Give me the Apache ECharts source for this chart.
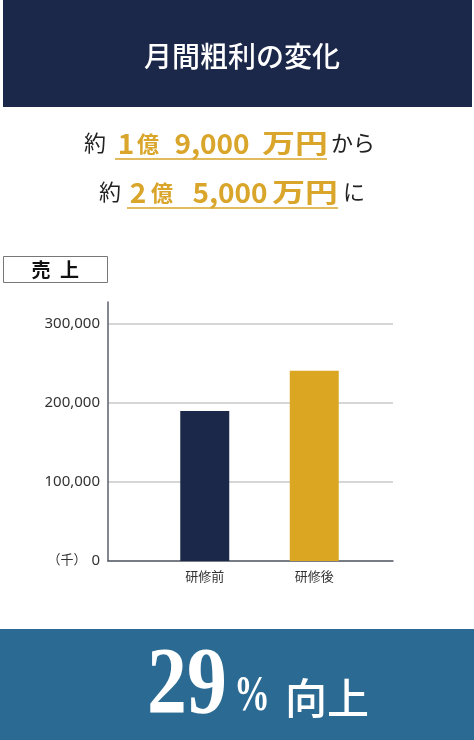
<!DOCTYPE html>
<html>
<head>
<meta charset="utf-8">
<script src="https://cdn.jsdelivr.net/npm/echarts@6/dist/echarts.min.js"></script>
<style>
html,body{margin:0;padding:0;background:#fff;}
#chart{width:474px;height:740px;}
</style>
</head>
<body>
<div id="chart"></div>
<script>
// ---- data ----
const title = '月間粗利の変化';
const categories = ['研修前', '研修後'];
const salesValues = [190000, 241000];
const yMin = 0;
const yMax = 328000;
const yInterval = 100000;
const unitLabel = '（千）';
const boxChars = ['売', '上'];
const resultNumber = '29';
const resultPercent = '%';
const resultWord = '向上';

// ---- style ----
const NAVY = '#1b2849';
const GOLD = '#d9a52a';
const BANNER = '#2b6b93';
const barColors = [NAVY, '#dba722'];
const CJK = '"Noto Sans CJK JP", "Noto Sans", sans-serif';
const SERIF = '"Liberation Serif", "DejaVu Serif", serif';

const chart = echarts.init(document.getElementById('chart'), null, {renderer: 'canvas'});

function txt(text, x, y, size, color, opts) {
  opts = opts || {};
  return {
    type: 'text', x: x, y: y, z: 10,
    scaleX: opts.scaleX || 1,
    scaleY: opts.scaleY || 1,
    style: {
      text: text, x: 0, y: 0,
      fill: color,
      font: (opts.weight || 'normal') + ' ' + size + 'px ' + (opts.family || CJK),
      align: opts.align || 'center',
      verticalAlign: 'middle'
    }
  };
}

const graphics = [
  // header
  {type: 'rect', shape: {x: 3, y: 0, width: 469, height: 107}, style: {fill: NAVY}, z: 1},
  txt(title, 242, 56, 28, '#ffffff', {weight: 500}),
  // line 1
  txt('約', 95, 143, 22, '#222222'),
  txt('1', 126, 143, 28, GOLD, {weight: 'bold'}),
  txt('億', 148, 144, 22, GOLD, {weight: 'bold'}),
  txt('9,000', 212, 143, 28, GOLD, {weight: 'bold'}),
  txt('万円', 295, 143, 26, GOLD, {weight: 'bold', scaleX: 1.26}),
  txt('から', 353, 143, 22, '#222222'),
  {type: 'line', shape: {x1: 115, y1: 159, x2: 327, y2: 159}, style: {stroke: GOLD, lineWidth: 1.5}, z: 10},
  // line 2
  txt('約', 110, 192, 22, '#222222'),
  txt('2', 138, 192, 28, GOLD, {weight: 'bold'}),
  txt('億', 162, 193, 22, GOLD, {weight: 'bold'}),
  txt('5,000', 230, 192, 28, GOLD, {weight: 'bold'}),
  txt('万円', 305, 192, 26, GOLD, {weight: 'bold', scaleX: 1.26}),
  txt('に', 354, 192, 22, '#222222'),
  {type: 'line', shape: {x1: 127, y1: 208, x2: 338, y2: 208}, style: {stroke: GOLD, lineWidth: 1.5}, z: 10},
  // box label
  {type: 'rect', shape: {x: 3.5, y: 256.5, width: 104, height: 26}, style: {fill: '#ffffff', stroke: '#777777', lineWidth: 1}, z: 5},
  txt(boxChars[0], 41, 270, 19, '#111111', {weight: 'bold'}),
  txt(boxChars[1], 69.5, 270, 19, '#111111', {weight: 'bold'}),
  // unit
  txt(unitLabel, 67, 559, 13, '#333333'),
  // banner
  {type: 'rect', shape: {x: 0, y: 629, width: 474, height: 111}, style: {fill: BANNER}, z: 1},
  txt(resultNumber, 187, 688, 95, '#ffffff', {weight: 'bold', family: SERIF, scaleX: 0.84}),
  txt(resultPercent, 252, 697, 50, '#ffffff', {weight: 'bold', family: SERIF, scaleX: 0.72}),
  txt(resultWord, 327, 698, 42, '#ffffff', {weight: 500})
];

const option = {
  backgroundColor: '#ffffff',
  animation: false,
  textStyle: {fontFamily: CJK},
  grid: [
    {left: 108, right: 81, top: 302, bottom: 179, outerBoundsMode: 'none'},
    {left: 150, right: 105, top: 302, bottom: 179, outerBoundsMode: 'none'}
  ],
  xAxis: [
    {
      type: 'value', gridIndex: 0, min: 0, max: 1,
      axisLine: {show: true, onZero: false, lineStyle: {color: '#5a5f6b', width: 1.5}},
      axisTick: {show: false}, axisLabel: {show: false}, splitLine: {show: false}
    },
    {
      type: 'category', gridIndex: 1, data: categories,
      axisLine: {show: false}, axisTick: {show: false},
      axisLabel: {fontSize: 13, color: '#333333', margin: 9, fontFamily: CJK},
      splitLine: {show: false}
    }
  ],
  yAxis: [
    {
      type: 'value', gridIndex: 0, min: yMin, max: yMax, interval: yInterval,
      axisLine: {show: true, lineStyle: {color: '#5a5f6b', width: 1.5}},
      axisTick: {show: false},
      axisLabel: {
        fontSize: 15, color: '#333333', margin: 8, showMaxLabel: false,
        fontFamily: '"Noto Sans", sans-serif',
        formatter: function (v) { return v.toLocaleString('en-US'); }
      },
      splitLine: {show: true, showMaxLine: false, lineStyle: {color: '#c8c8c8', width: 1.5}}
    },
    {
      type: 'value', gridIndex: 1, min: yMin, max: yMax, show: false
    }
  ],
  series: [{
    type: 'bar',
    xAxisIndex: 1, yAxisIndex: 1,
    barWidth: 49,
    data: salesValues.map(function (v, i) { return {value: v, itemStyle: {color: barColors[i]}}; })
  }],
  graphic: graphics
};

chart.setOption(option);
</script>
</body>
</html>
